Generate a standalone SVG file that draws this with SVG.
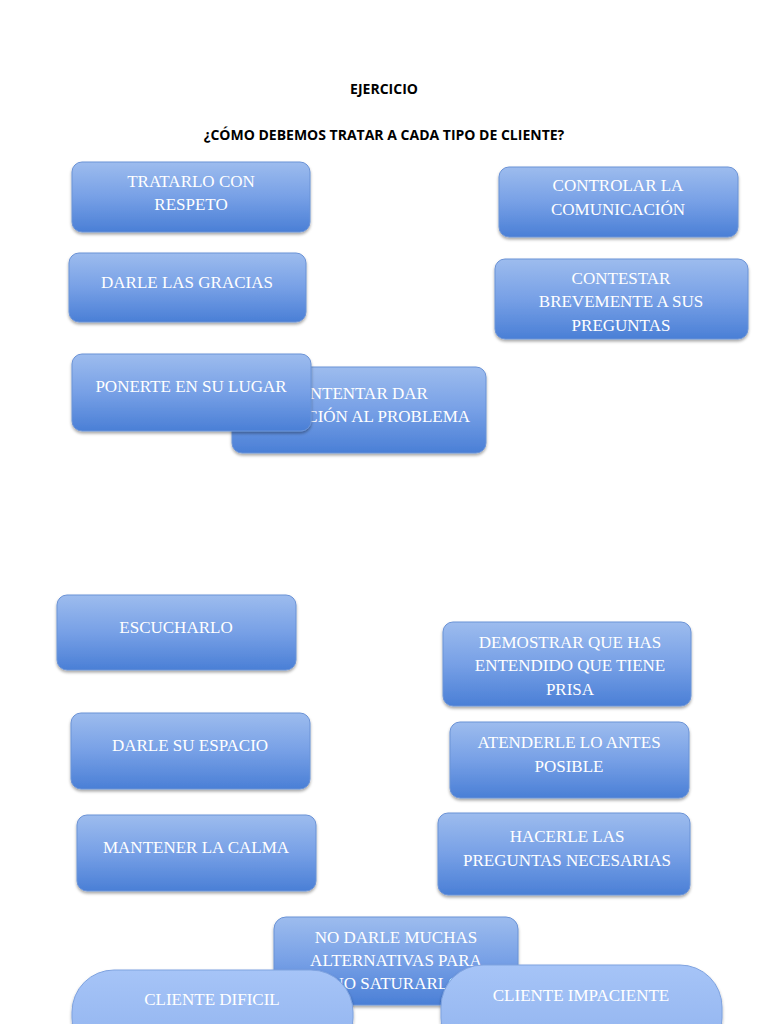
<svg xmlns="http://www.w3.org/2000/svg" width="768" height="1024" viewBox="0 0 768 1024">
<defs>
<linearGradient id="g" x1="0" y1="0" x2="0" y2="1"><stop offset="0" stop-color="#9dbcee"/><stop offset="0.5" stop-color="#77a0e6"/><stop offset="1" stop-color="#4a7fd6"/></linearGradient>
<linearGradient id="g2" x1="0" y1="0" x2="0" y2="1"><stop offset="0" stop-color="#a6c4f7"/><stop offset="1" stop-color="#8fb2ee"/></linearGradient>
<filter id="s" x="-10%" y="-10%" width="120%" height="130%"><feDropShadow dx="0" dy="2" stdDeviation="1.5" flood-color="#000" flood-opacity="0.35"/></filter>
</defs>
<style>
.b{fill:url(#g);stroke:#6b93d6;stroke-width:1;filter:url(#s)}
.c{fill:url(#g2);stroke:#7fa3e0;stroke-width:1;filter:url(#s)}
text{font-family:"Liberation Serif",serif;font-size:17px;fill:#fff;text-anchor:middle}
.t{font-family:"Open Sans","Liberation Sans",sans-serif;font-size:14px;font-weight:bold;fill:#000}
</style>
<rect width="768" height="1024" fill="#fff"/>
<text class="t" x="384" y="94">EJERCICIO</text>
<text class="t" x="384" y="140">¿CÓMO DEBEMOS TRATAR A CADA TIPO DE CLIENTE?</text>
<g id="n1"><rect class="b" x="72" y="162" width="238" height="70" rx="10"/><text x="191" y="187">TRATARLO CON</text><text x="191" y="210">RESPETO</text></g>
<g id="n2"><rect class="b" x="499" y="167" width="239" height="70" rx="10"/><text x="618" y="191">CONTROLAR LA</text><text x="618" y="215">COMUNICACIÓN</text></g>
<g id="n3"><rect class="b" x="69" y="253" width="237" height="69" rx="10"/><text x="187" y="288">DARLE LAS GRACIAS</text></g>
<g id="n4"><rect class="b" x="495" y="259" width="253" height="80" rx="10"/><text x="621" y="284">CONTESTAR</text><text x="621" y="307">BREVEMENTE A SUS</text><text x="621" y="331">PREGUNTAS</text></g>
<g id="n5"><rect class="b" x="232" y="367" width="254" height="86" rx="10"/><text x="366" y="399">INTENTAR DAR</text><text x="366" y="422">SOLUCIÓN AL PROBLEMA</text></g>
<g id="n6"><rect class="b" x="72" y="354" width="239" height="77" rx="10"/><text x="191" y="392">PONERTE EN SU LUGAR</text></g>
<g id="n7"><rect class="b" x="57" y="595" width="239" height="75" rx="10"/><text x="176" y="633">ESCUCHARLO</text></g>
<g id="n8"><rect class="b" x="443" y="622" width="248" height="84" rx="10"/><text x="570" y="648">DEMOSTRAR QUE HAS</text><text x="570" y="671">ENTENDIDO QUE TIENE</text><text x="570" y="695">PRISA</text></g>
<g id="n9"><rect class="b" x="71" y="713" width="239" height="76" rx="10"/><text x="190" y="751">DARLE SU ESPACIO</text></g>
<g id="n10"><rect class="b" x="450" y="722" width="239" height="76" rx="10"/><text x="569" y="748">ATENDERLE LO ANTES</text><text x="569" y="772">POSIBLE</text></g>
<g id="n11"><rect class="b" x="77" y="815" width="239" height="76" rx="10"/><text x="196" y="853">MANTENER LA CALMA</text></g>
<g id="n12"><rect class="b" x="438" y="813" width="252" height="82" rx="10"/><text x="567" y="842">HACERLE LAS</text><text x="567" y="866">PREGUNTAS NECESARIAS</text></g>
<g id="n13"><rect class="b" x="274" y="917" width="244" height="88" rx="12"/><text x="396" y="943">NO DARLE MUCHAS</text><text x="396" y="966">ALTERNATIVAS PARA</text><text x="396" y="989">NO SATURARLO</text></g>
<g id="n14"><rect class="c" x="72" y="970" width="281" height="90" rx="42"/><text x="212" y="1005">CLIENTE DIFICIL</text></g>
<g id="n15"><rect class="c" x="441" y="965" width="281" height="95" rx="42"/><text x="581" y="1001">CLIENTE IMPACIENTE</text></g>
<g id="connectors"/>
</svg>
